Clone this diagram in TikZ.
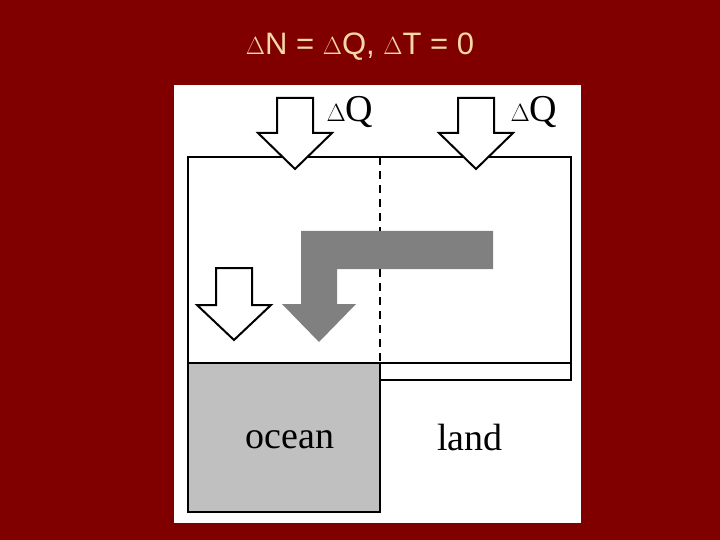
\documentclass[tikz,border=0pt]{standalone}
\usepackage{fontspec}
\setmainfont{Liberation Serif}
\newfontfamily\titlefont{Liberation Sans}
\usepackage{tikz}
\usepackage{xcolor}
\usetikzlibrary{calc}
\usetikzlibrary{positioning}

\definecolor{slidered}{HTML}{800000}
\definecolor{titlepeach}{HTML}{F5D7A8}
\definecolor{oceangray}{HTML}{C0C0C0}
\definecolor{flowgray}{HTML}{808080}

\tikzset{
  openarrow/.style={draw=black,fill=white,line width=2pt,line join=miter},
  labeltext/.style={font=\fontsize{38}{40}\selectfont,inner sep=0pt},
}

% down arrow: #1 = centre x, #2 = top y, #3 = head y, #4 = tip y
\newcommand{\heatarrow}[4]{%
  \draw[openarrow] (#1-18,#2) -- (#1+18,#2) -- (#1+18,#3) -- (#1+37,#3)
    -- (#1,#4) -- (#1-37,#3) -- (#1-18,#3) -- cycle;}

\begin{document}
\begin{tikzpicture}[x=1pt,y=-1pt]
\fill[slidered] (0,0) rectangle (720,540);
\useasboundingbox (0,0) rectangle (720,540);
\fill[white] (174,85) rectangle (581,523);

\node[font=\titlefont\fontsize{31}{33}\selectfont,text=titlepeach] (title) at (360,47) {$\Delta$N = $\Delta$Q, $\Delta$T = 0};

% atmosphere and surface
\fill[oceangray] (188,363) rectangle (380,512);
\draw[line width=2pt] (188,157) rectangle (571,363);
\draw[line width=2pt] (188,363) -- (188,512) -- (380,512) -- (380,363);
\draw[line width=2pt] (380,363) -- (380,380) -- (571,380) -- (571,363);
\draw[line width=2pt,dash pattern=on 8pt off 6pt] (380,157) -- (380,363);

% heating from above
\heatarrow{295}{98}{133}{169}
\heatarrow{476}{98}{133}{169}
\heatarrow{234}{268}{305}{340}
\node[labeltext] (dq1) at (350,112) {$\Delta$Q};
\node[labeltext] (dq2) at (534,112) {$\Delta$Q};

% transport from land to ocean
\fill[flowgray] (493,231) -- (301,231) -- (301,304) -- (282,304) -- (319,342)
  -- (356,304) -- (337,304) -- (337,269) -- (493,269) -- cycle;

\node[labeltext] (ocean) at (290,440) {ocean};
\node[labeltext] (land) at (470,437) {land};
\end{tikzpicture}
\end{document}
